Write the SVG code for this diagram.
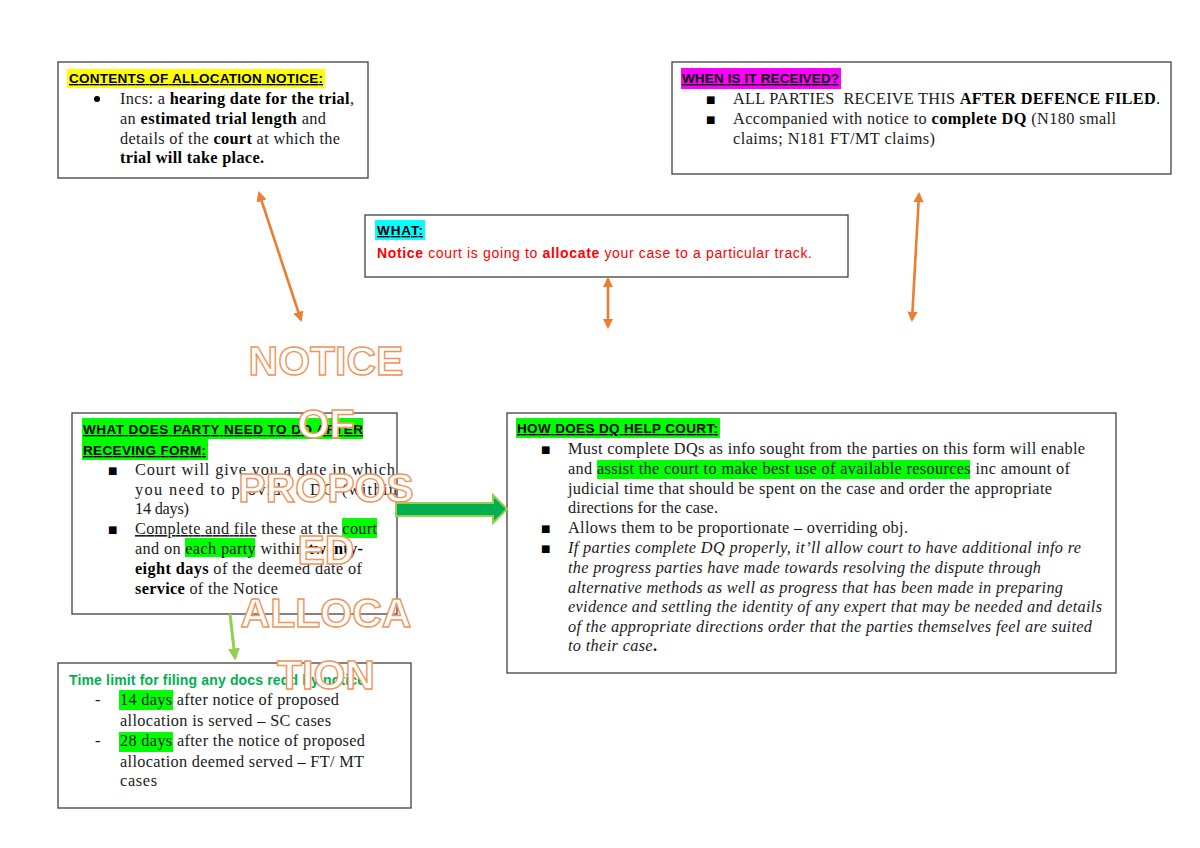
<svg xmlns="http://www.w3.org/2000/svg" width="1200" height="848" viewBox="0 0 1200 848">
<style>
.box{fill:#fff;stroke:#404040;stroke-width:1.3}
.hd{font-family:"Liberation Sans",Arial,sans-serif;font-weight:bold;font-size:13.5px;fill:#000;text-decoration:underline}
.tx{font-family:"Liberation Serif","Times New Roman",serif;font-size:16.3px;fill:#1a1a1a}
.b{font-weight:bold;fill:#000}
.it{font-style:italic}
.bul{font-family:"DejaVu Sans",sans-serif;font-size:10px;fill:#000}
.ov{font-family:"Liberation Sans",Arial,sans-serif;font-weight:bold;font-size:41px;fill:#fff;stroke:#f0955a;stroke-width:1.4;text-anchor:middle}
.oa{stroke:#ed7d31;stroke-width:2.6;fill:none}
</style>
<defs>
<marker id="oh" viewBox="0 0 10 10" refX="8" refY="5" markerWidth="4" markerHeight="4" orient="auto-start-reverse" markerUnits="strokeWidth">
<path d="M0,0 L10,5 L0,10 Z" fill="#ed7d31"/>
</marker>
<marker id="gh" viewBox="0 0 10 10" refX="8" refY="5" markerWidth="4" markerHeight="4" orient="auto" markerUnits="strokeWidth">
<path d="M0,0 L10,5 L0,10 Z" fill="#92d050"/>
</marker>
</defs>
<rect width="1200" height="848" fill="#fff"/>

<g id="contents">
<rect class="box" x="58" y="62" width="310" height="116"/>
<rect x="67" y="69" width="258" height="19" fill="#ffff00"/>
<text class="hd" x="69" y="83" textLength="254">CONTENTS OF ALLOCATION NOTICE:</text>
<circle cx="97" cy="99" r="3" fill="#000"/>
<text class="tx" x="120" y="104" textLength="234">Incs: a <tspan class="b">hearing date for the trial</tspan>,</text>
<text class="tx" x="120" y="124" textLength="206">an <tspan class="b">estimated trial length</tspan> and</text>
<text class="tx" x="120" y="144" textLength="220">details of the <tspan class="b">court</tspan> at which the</text>
<text class="tx" x="120" y="163" textLength="144"><tspan class="b">trial will take place.</tspan></text>
</g>

<g id="when">
<rect class="box" x="672" y="62" width="499" height="112"/>
<rect x="681" y="68" width="160" height="21" fill="#ff00ff"/>
<text class="hd" x="682" y="83" textLength="157">WHEN IS IT RECEIVED?</text>
<text class="bul" x="706" y="103">■</text>
<text class="tx" x="733" y="104" textLength="427" xml:space="preserve">ALL PARTIES  RECEIVE THIS <tspan class="b">AFTER DEFENCE FILED</tspan>.</text>
<text class="bul" x="706" y="123">■</text>
<text class="tx" x="733" y="124" textLength="383">Accompanied with notice to <tspan class="b">complete DQ</tspan> (N180 small</text>
<text class="tx" x="733" y="144" textLength="202">claims; N181 FT/MT claims)</text>
</g>

<g id="what">
<rect class="box" x="365" y="215" width="483" height="62"/>
<rect x="375" y="220" width="50" height="20" fill="#00ffff"/>
<text class="hd" x="377" y="235" textLength="46">WHAT:</text>
<text x="377" y="258" textLength="435" style="font-family:'Liberation Sans',Arial,sans-serif;font-size:14px;fill:#ff0000"><tspan font-weight="bold">Notice</tspan> court is going to <tspan font-weight="bold">allocate</tspan> your case to a particular track.</text>
</g>

<g id="party">
<rect class="box" x="72" y="413" width="325" height="201"/>
<rect x="82" y="418" width="281" height="21" fill="#00ff00"/>
<rect x="82" y="439" width="126" height="21" fill="#00ff00"/>
<text class="hd" x="83" y="434" textLength="280">WHAT DOES PARTY NEED TO DO AFTER </text>
<text class="hd" x="83" y="455" textLength="123">RECEVING FORM:</text>
<text class="bul" x="108" y="474">■</text>
<text class="tx" x="135" y="475" textLength="260">Court will give you a date in which</text>
<text class="tx" x="135" y="495" textLength="262">you need to provide a DQ (within</text>
<text class="tx" x="135" y="514" textLength="54">14 days)</text>
<rect x="342" y="518" width="35" height="20" fill="#00ff00"/>
<rect x="185" y="538" width="70" height="19" fill="#00ff00"/>
<text class="bul" x="108" y="533">■</text>
<text class="tx" x="135" y="534" textLength="242"><tspan text-decoration="underline">Complete and file</tspan> these at the court</text>
<text class="tx" x="135" y="554" textLength="228">and on each party within <tspan class="b">twenty-</tspan></text>
<text class="tx" x="135" y="574" textLength="227"><tspan class="b">eight days</tspan> of the deemed date of</text>
<text class="tx" x="135" y="594" textLength="143"><tspan class="b">service</tspan> of the Notice</text>
</g>

<g id="how">
<rect class="box" x="507" y="413" width="609" height="260"/>
<rect x="516" y="418" width="204" height="20" fill="#00ff00"/>
<text class="hd" x="517" y="433" textLength="201">HOW DOES DQ HELP COURT:</text>
<rect x="597" y="460" width="373" height="19" fill="#00ff00"/>
<text class="bul" x="541" y="453">■</text>
<text class="tx" x="568" y="454" textLength="517">Must complete DQs as info sought from the parties on this form will enable</text>
<text class="tx" x="568" y="474" textLength="502">and assist the court to make best use of available resources inc amount of</text>
<text class="tx" x="568" y="494" textLength="484">judicial time that should be spent on the case and order the appropriate</text>
<text class="tx" x="568" y="513" textLength="150">directions for the case.</text>
<text class="bul" x="541" y="532">■</text>
<text class="tx" x="568" y="533" textLength="340">Allows them to be proportionate – overriding obj.</text>
<text class="bul" x="541" y="552">■</text>
<text class="tx it" x="568" y="553" textLength="513">If parties complete DQ properly, it’ll allow court to have additional info re</text>
<text class="tx it" x="568" y="573" textLength="473">the progress parties have made towards resolving the dispute through</text>
<text class="tx it" x="568" y="593" textLength="495">alternative methods as well as progress that has been made in preparing</text>
<text class="tx it" x="568" y="612" textLength="534">evidence and settling the identity of any expert that may be needed and details</text>
<text class="tx it" x="568" y="632" textLength="524">of the appropriate directions order that the parties themselves feel are suited</text>
<text class="tx" x="568" y="651" textLength="89"><tspan class="it">to their case</tspan><tspan class="b">.</tspan></text>
</g>

<g id="timelimit">
<rect class="box" x="58" y="663" width="353" height="145"/>
<text x="69" y="685" textLength="296" style="font-family:'Liberation Sans',Arial,sans-serif;font-weight:bold;font-size:14px;fill:#00b050">Time limit for filing any docs reqd by notice</text>
<rect x="119" y="690" width="54" height="20" fill="#00ff00"/>
<rect x="119" y="732" width="54" height="20" fill="#00ff00"/>
<text class="tx" x="95" y="705">-</text>
<text class="tx" x="120" y="705" textLength="219">14 days after notice of proposed</text>
<text class="tx" x="120" y="726" textLength="211">allocation is served – SC cases</text>
<text class="tx" x="95" y="746">-</text>
<text class="tx" x="120" y="746" textLength="245">28 days after the notice of proposed</text>
<text class="tx" x="120" y="767" textLength="244">allocation deemed served – FT/ MT</text>
<text class="tx" x="120" y="786" textLength="37">cases</text>
</g>

<g id="connectors">
<line class="oa" x1="259" y1="193" x2="301" y2="320" marker-start="url(#oh)" marker-end="url(#oh)"/>
<line class="oa" x1="608" y1="279" x2="608" y2="327" marker-start="url(#oh)" marker-end="url(#oh)"/>
<line class="oa" x1="919" y1="194" x2="912" y2="320" marker-start="url(#oh)" marker-end="url(#oh)"/>
<line x1="230" y1="614" x2="235" y2="658" stroke="#92d050" stroke-width="3" marker-end="url(#gh)"/>
<polygon points="396,503 493,503 493,495 507,509 493,523 493,516 396,516" fill="#00b050" stroke="#92d050" stroke-width="2"/>
</g>

<g id="title">
<text class="ov" x="326" y="375">NOTICE</text>
<text class="ov" x="326" y="438">OF</text>
<text class="ov" x="326" y="502">PROPOS</text>
<text class="ov" x="326" y="564">ED</text>
<text class="ov" x="326" y="627">ALLOCA</text>
<text class="ov" x="326" y="689">TION</text>
</g>
</svg>
